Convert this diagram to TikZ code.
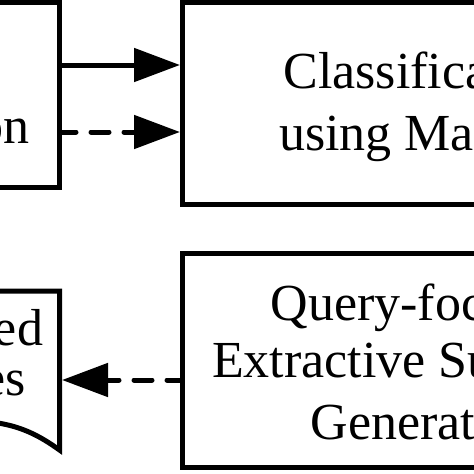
\documentclass[tikz,border=0pt]{standalone}
\usepackage{fontspec}
\setmainfont{Liberation Serif}
\usetikzlibrary{arrows.meta}
\begin{document}
\begin{tikzpicture}[x=1pt,y=-1pt,
  box/.style={draw, line width=5pt, rectangle, inner sep=0pt, outer sep=2.5pt},
  lbl/.style={font=\fontsize{52}{60}\selectfont, inner sep=0pt, outer sep=0pt},
  arr/.style={-{Triangle[length=46pt,width=33pt]}, line width=5pt},
  dsh/.style={dash pattern=on 18pt off 15pt, line cap=round}]
\useasboundingbox (0,0) rectangle (474,474);
\clip (0,0) rectangle (474,474);
% boxes
\node[box, minimum width=259pt, minimum height=184.5pt] (lt) at (-70.5,94.75) {};
\node[box, minimum width=491.5pt, minimum height=202pt] (rt) at (428.25,103) {};
\node[box, minimum width=491.5pt, minimum height=214pt] (rb) at (428.25,360.5) {};
% document shape
\draw[line width=5pt, line join=miter] (-10,291) -- (59.5,291) -- (59.5,450)
  .. controls (40,436) and (20,425) .. (-10,422);
\coordinate (docE) at (62,380);
% helper levels
\coordinate (y1) at (0,65);
\coordinate (y2) at (0,132);
\coordinate (y3) at (0,380);
% connectors
\draw[arr] (lt.east |- y1) -- (rt.west |- y1);
\draw[arr, dsh, dash phase=3.5pt] (lt.east |- y2) -- (rt.west |- y2);
\draw[arr, dsh, dash phase=5pt] (rb.west |- y3) -- (docE);
% texts
\node[lbl, anchor=base east] (t0) at (30,143) {on};
\node[lbl, anchor=base west] (t1) at (283.5,88) {Classifica};
\node[lbl, anchor=base west] (t2) at (279,150) {using Ma};
\node[lbl, anchor=base west] (t3) at (270.5,320) {Query-foc};
\node[lbl, anchor=base west] (t4) at (212,377) {Extractive Su};
\node[lbl, anchor=base west] (t5) at (310.5,439) {Generat};
\node[lbl, anchor=base east] (t6) at (43,345) {ed};
\node[lbl, anchor=base east] (t7) at (25.5,395) {es};
\end{tikzpicture}
\end{document}
